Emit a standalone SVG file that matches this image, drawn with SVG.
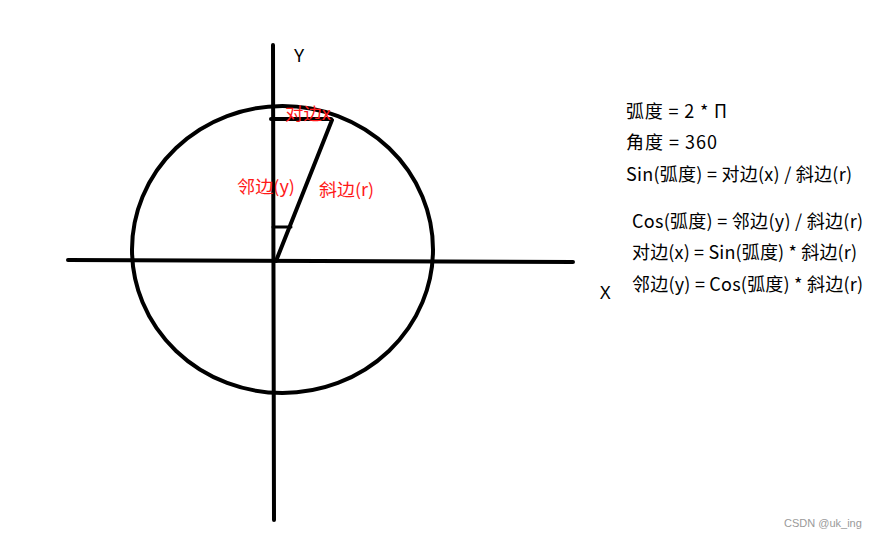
<svg xmlns="http://www.w3.org/2000/svg" width="878" height="539" viewBox="0 0 878 539">
<style>
.ln{stroke:#000;stroke-width:4;fill:none;stroke-linecap:round}
.thin{stroke:#000;stroke-width:3;fill:none;stroke-linecap:round}
.f{font-family:"Microsoft YaHei","Noto Sans CJK SC","Noto Sans",sans-serif;font-size:18px;fill:#000}
.red{font-family:"Microsoft YaHei","Noto Sans CJK SC","Noto Sans",sans-serif;font-size:17px;fill:#ff1a1a}
.ax{font-family:"Noto Sans","Liberation Sans",sans-serif;font-size:18px;fill:#000}
.wm{font-family:"Liberation Sans","Noto Sans",sans-serif;font-size:11px;fill:#9a9a9a}
</style>
<rect width="878" height="539" fill="#fff"/>
<g id="circle">
<ellipse class="ln" cx="282.5" cy="249.5" rx="150.5" ry="143.5"/>
</g>
<g id="axes">
<line class="ln" x1="68" y1="260" x2="573" y2="262"/>
<line class="ln" x1="273" y1="45" x2="274" y2="520"/>
<text class="ax" x="294" y="62">Y</text>
<text class="ax" x="600" y="299">X</text>
</g>
<g id="triangle">
<line class="ln" x1="271" y1="119" x2="331" y2="119"/>
<line class="ln" x1="332" y1="120" x2="276" y2="261"/>
<line class="thin" x1="273" y1="227" x2="291" y2="227"/>
<text class="red" x="285" y="120" textLength="46" lengthAdjust="spacingAndGlyphs">对边x</text>
<text class="red" x="237" y="193" textLength="58" lengthAdjust="spacingAndGlyphs">邻边(y)</text>
<text class="red" x="319" y="196" textLength="55" lengthAdjust="spacingAndGlyphs">斜边(r)</text>
</g>
<g id="formulas">
<text class="f" x="626" y="118" textLength="101" lengthAdjust="spacing">弧度 = 2 * Π</text>
<text class="f" x="626" y="149" textLength="91" lengthAdjust="spacing">角度 = 360</text>
<text class="f" x="626" y="181" textLength="226" lengthAdjust="spacing">Sin(弧度) = 对边(x) / 斜边(r)</text>
<text class="f" x="632" y="228" textLength="231" lengthAdjust="spacing">Cos(弧度) = 邻边(y) / 斜边(r)</text>
<text class="f" x="632" y="259" textLength="225" lengthAdjust="spacing">对边(x) = Sin(弧度) * 斜边(r)</text>
<text class="f" x="632" y="291" textLength="231" lengthAdjust="spacing">邻边(y) = Cos(弧度) * 斜边(r)</text>
</g>
<text class="wm" x="784" y="527">CSDN @uk_ing</text>
</svg>
